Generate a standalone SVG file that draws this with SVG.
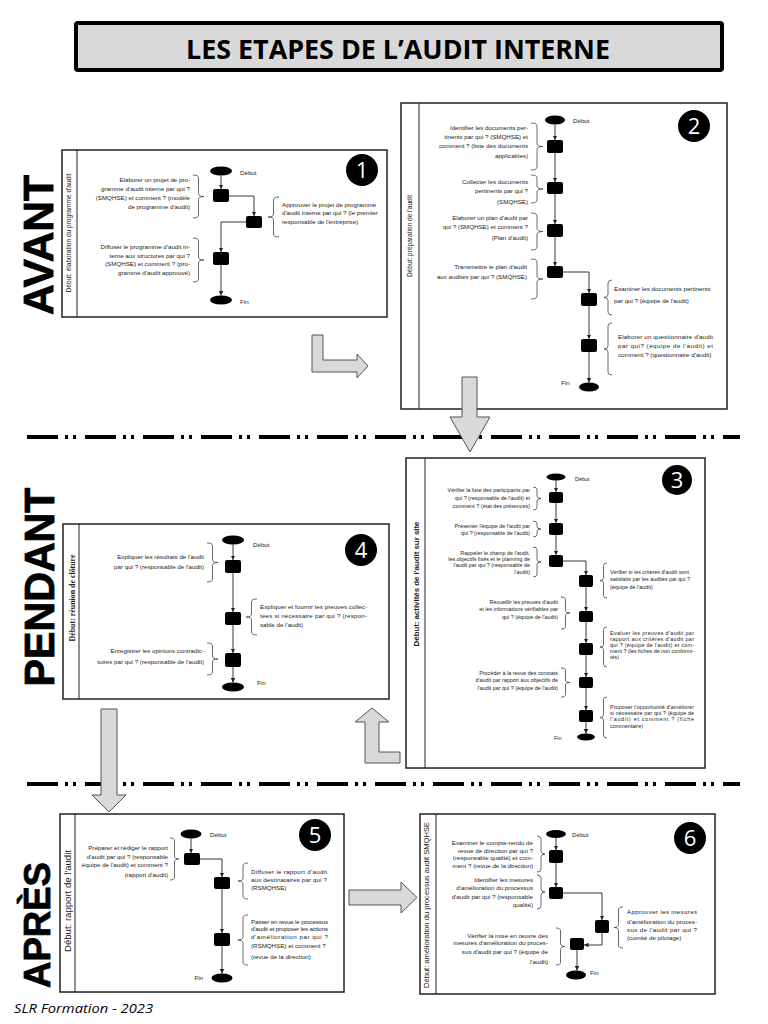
<svg xmlns="http://www.w3.org/2000/svg" width="768" height="1024" viewBox="0 0 768 1024">
<defs>
<marker id="ah" viewBox="0 0 6 6" refX="6" refY="3" markerWidth="4.5" markerHeight="4.5" markerUnits="userSpaceOnUse" orient="auto"><path d="M0,0 L6,3 L0,6 Z" fill="#222"/></marker>
<style>
.t{font-family:"Liberation Sans",Arial,sans-serif;font-size:6.2px;fill:#222}
.s{font-size:5.4px}
.r{text-anchor:end}
.br{fill:none;stroke:#444;stroke-width:0.8}
.ln{fill:none;stroke:#222;stroke-width:0.9}
.bx{fill:#000}
.pn{fill:#fff;stroke:#222;stroke-width:1.5}
.dv{stroke:#222;stroke-width:1}
.nt{font-family:"Open Sans","Liberation Sans",sans-serif;font-size:22px;fill:#fff;text-anchor:middle}
.ga{fill:#d9d9d9;stroke:#555;stroke-width:1}
.big{font-family:"Liberation Sans",Arial,sans-serif;font-weight:700;fill:#000;stroke:#000;stroke-width:0.8;text-anchor:middle}
.dash{stroke:#000;stroke-width:4;stroke-dasharray:31 7 3 5 3 9;fill:none}
.lab{font-family:"Liberation Sans",Arial,sans-serif;fill:#222;text-anchor:middle}
</style>
</defs>
<rect width="768" height="1024" fill="#fff"/>

<g id="title">
<rect x="76" y="23" width="646" height="47" fill="#d9d9d9" stroke="#000" stroke-width="4" rx="2"/>
<text x="398" y="59" font-family="'Open Sans','Liberation Sans',sans-serif" font-weight="700" font-size="27" text-anchor="middle" textLength="424" lengthAdjust="spacingAndGlyphs" fill="#000">LES ETAPES DE L’AUDIT INTERNE</text>
</g>

<g id="phases">
<text class="big" font-size="42" transform="translate(53,245) rotate(-90)" textLength="140" lengthAdjust="spacingAndGlyphs">AVANT</text>
<text class="big" font-size="43" transform="translate(54,587) rotate(-90)" textLength="199" lengthAdjust="spacingAndGlyphs">PENDANT</text>
<text class="big" font-size="37" transform="translate(50,925) rotate(-90)" textLength="126" lengthAdjust="spacingAndGlyphs">APRÈS</text>
</g>

<g id="separators">
<line class="dash" x1="27" y1="437" x2="740" y2="437"/>
<line class="dash" x1="27" y1="784" x2="740" y2="784"/>
</g>

<!-- Panel 1 -->
<g id="panel1">
<rect class="pn" x="62" y="150" width="325" height="167"/>
<line class="dv" x1="77" y1="150" x2="77" y2="317"/>
<text class="lab" font-size="6.5" transform="translate(71,233) rotate(-90)" textLength="119" lengthAdjust="spacingAndGlyphs">Début: élaboration du programme d'audit</text>
<circle cx="362" cy="170" r="16" fill="#000"/><text class="nt" x="362" y="178">1</text>
<g id="p1-debut"><ellipse cx="221" cy="171" rx="11" ry="4.5" fill="#000"/><text class="t" x="240" y="175" font-size="7">Début</text></g>
<g id="p1-s1"><rect class="bx" x="213" y="189" width="16" height="13" rx="2"/>
<path class="br" d="M193,175 Q198.5,175 198.5,178 L198.5,193.5 Q198.5,196.5 204,196.5 Q198.5,196.5 198.5,199.5 L198.5,215 Q198.5,218 193,218"/>
<text class="t r" x="190" y="182">Elaborer un projet de pro-</text>
<text class="t r" x="190" y="191">gramme d'audit interne par qui ?</text>
<text class="t r" x="190" y="200">(SMQHSE) et comment ? (modèle</text>
<text class="t r" x="190" y="209">de programme d'audit)</text></g>
<g id="p1-s2"><rect class="bx" x="246" y="216" width="16" height="12" rx="2"/>
<path class="br" d="M279,197 Q273.5,197 273.5,200 L273.5,214 Q273.5,217 268,217 Q273.5,217 273.5,220 L273.5,234 Q273.5,237 279,237"/>
<text class="t" x="282" y="207">Approuver le projet de programme</text>
<text class="t" x="282" y="215">d'audit interne par qui ? (le premier</text>
<text class="t" x="282" y="224">responsable de l'entreprise)</text></g>
<g id="p1-s3"><rect class="bx" x="213" y="252" width="16" height="13" rx="2"/>
<path class="br" d="M193,238 Q198.5,238 198.5,241 L198.5,257 Q198.5,260 204,260 Q198.5,260 198.5,263 L198.5,279 Q198.5,282 193,282"/>
<text class="t r" x="190" y="249">Diffuser le programme d'audit in-</text>
<text class="t r" x="190" y="258">terne aux structures par qui ?</text>
<text class="t r" x="190" y="266">(SMQHSE) et comment ? (pro-</text>
<text class="t r" x="190" y="275">gramme d'audit approuvé)</text></g>
<g id="p1-fin"><ellipse cx="221" cy="300" rx="11" ry="4.5" fill="#000"/><text class="t" x="240" y="304" font-size="7">Fin</text></g>
</g>

<!-- Panel 2 -->
<g id="panel2">
<rect class="pn" x="401" y="103" width="326" height="306"/>
<line class="dv" x1="419" y1="103" x2="419" y2="409"/>
<text class="lab" font-size="6.5" transform="translate(411.5,236) rotate(-90)" textLength="82" lengthAdjust="spacingAndGlyphs">Début: préparation de l'audit</text>
<circle cx="694" cy="126" r="16" fill="#000"/><text class="nt" x="694" y="134">2</text>
<g id="p2-debut"><ellipse cx="555" cy="120" rx="10" ry="4.5" fill="#000"/><text class="t" x="573" y="123" font-size="7">Début</text></g>
<g id="p2-s1"><rect class="bx" x="547" y="140" width="16" height="13" rx="2"/>
<path class="br" d="M531,123 Q537,123 537,126 L537,143.5 Q537,146.5 543,146.5 Q537,146.5 537,149.5 L537,167 Q537,170 531,170"/>
<text class="t r" x="528" y="130">Identifier les documents per-</text>
<text class="t r" x="528" y="139">tinents par qui ? (SMQHSE) et</text>
<text class="t r" x="528" y="148">comment ? (liste des documents</text>
<text class="t r" x="528" y="158">applicables)</text></g>
<g id="p2-s2"><rect class="bx" x="547" y="182" width="16" height="12" rx="2"/>
<path class="br" d="M531,175 Q537,175 537,178 L537,186 Q537,189 543,189 Q537,189 537,192 L537,200 Q537,203 531,203"/>
<text class="t r" x="528" y="184">Collecter les documents</text>
<text class="t r" x="528" y="193">pertinents par qui ?</text>
<text class="t r" x="528" y="204">(SMQHSE)</text></g>
<g id="p2-s3"><rect class="bx" x="547" y="224" width="16" height="13" rx="2"/>
<path class="br" d="M531,213 Q537,213 537,216 L537,228.5 Q537,231.5 543,231.5 Q537,231.5 537,234.5 L537,247 Q537,250 531,250"/>
<text class="t r" x="528" y="220">Elaborer un plan d'audit par</text>
<text class="t r" x="528" y="229">qui ? (SMQHSE) et comment ?</text>
<text class="t r" x="528" y="240">(Plan d'audit)</text></g>
<g id="p2-s4"><rect class="bx" x="547" y="266" width="16" height="12" rx="2"/>
<path class="br" d="M531,259 Q537,259 537,262 L537,276 Q537,279 543,279 Q537,279 537,282 L537,296 Q537,299 531,299"/>
<text class="t r" x="527" y="269">Transmettre le plan d'audit</text>
<text class="t r" x="527" y="279">aux audités par qui ? (SMQHSE)</text></g>
<g id="p2-s5"><rect class="bx" x="581" y="293" width="16" height="13" rx="2"/>
<path class="br" d="M612,280 Q608,280 608,283 L608,294.5 Q608,297.5 604,297.5 Q608,297.5 608,300.5 L608,312 Q608,315 612,315"/>
<text class="t" x="614" y="291">Examiner les documents pertinents</text>
<text class="t" x="614" y="303">par qui ? (équipe de l'audit)</text></g>
<g id="p2-s6"><rect class="bx" x="581" y="339" width="16" height="13" rx="2"/>
<path class="br" d="M612,323 Q608,323 608,326 L608,346 Q608,349 604,349 Q608,349 608,352 L608,372 Q608,375 612,375"/>
<text class="t" x="618" y="339" textLength="95" lengthAdjust="spacing">Elaborer un questionnaire d'audit</text>
<text class="t" x="618" y="348" textLength="95" lengthAdjust="spacing">par qui? (équipe de l'audit) et</text>
<text class="t" x="618" y="357">comment ? (questionnaire d'audit)</text></g>
<g id="p2-fin"><ellipse cx="589" cy="387" rx="10" ry="4.5" fill="#000"/><text class="t" x="561" y="385" font-size="7">Fin</text></g>
</g>

<!-- Panel 3 -->
<g id="panel3">
<rect class="pn" x="406" y="458" width="299" height="310"/>
<line class="dv" x1="425" y1="458" x2="425" y2="768"/>
<text class="lab" font-size="8" font-weight="700" fill="#3b3526" transform="translate(418.5,584) rotate(-90)" textLength="125" lengthAdjust="spacing">Début: activités de l'audit sur site</text>
<circle cx="677" cy="480" r="15" fill="#000"/><text class="nt" x="677" y="488" font-size="21">3</text>
<g id="p3-debut"><ellipse cx="556" cy="477" rx="9.5" ry="3.5" fill="#000"/><text class="t s" x="575" y="481">Début</text></g>
<g id="p3-s1"><rect class="bx" x="549" y="492" width="14" height="11" rx="2"/>
<path class="br" d="M533,487 Q537,487 537,489.5 L537,496 Q537,498.5 541,498.5 Q537,498.5 537,501 L537,507.5 Q537,510 533,510"/>
<text class="t s r" x="530" y="492">Vérifier la liste des participants par</text>
<text class="t s r" x="530" y="500">qui ? (responsable de l'audit) et</text>
<text class="t s r" x="530" y="508">comment ? (état des présences)</text></g>
<g id="p3-s2"><rect class="bx" x="549" y="523" width="14" height="12" rx="2"/>
<path class="br" d="M533,521 Q537,521 537,523.5 L537,526.5 Q537,529 541,529 Q537,529 537,531.5 L537,534.5 Q537,537 533,537"/>
<text class="t s r" x="530" y="528">Présenter l'équipe de l'audit par</text>
<text class="t s r" x="530" y="535">qui ? (responsable de l'audit)</text></g>
<g id="p3-s3"><rect class="bx" x="549" y="555" width="14" height="12" rx="2"/>
<path class="br" d="M533,547 Q537,547 537,549.5 L537,559.5 Q537,562 541,562 Q537,562 537,564.5 L537,574.5 Q537,577 533,577"/>
<text class="t s r" x="530" y="555">Rappeler le champ de l'audit,</text>
<text class="t s r" x="530" y="561">les objectifs fixés et le planning de</text>
<text class="t s r" x="530" y="567">l'audit par qui ? (responsable de</text>
<text class="t s r" x="530" y="574">l'audit)</text></g>
<g id="p3-s4"><rect class="bx" x="579" y="575" width="14" height="12" rx="2"/>
<path class="br" d="M607,563 Q603.5,563 603.5,565.5 L603.5,578 Q603.5,580.5 600,580.5 Q603.5,580.5 603.5,583 L603.5,595.5 Q603.5,598 607,598"/>
<text class="t s" x="610" y="574">Vérifier si les critères d'audit sont</text>
<text class="t s" x="610" y="581">satisfaits par les audités par qui ?</text>
<text class="t s" x="610" y="589">(équipe de l'audit)</text></g>
<g id="p3-s5"><rect class="bx" x="579" y="611" width="14" height="11" rx="2"/>
<path class="br" d="M561,597 Q565.5,597 565.5,599.5 L565.5,610.5 Q565.5,613 570,613 Q565.5,613 565.5,615.5 L565.5,626.5 Q565.5,629 561,629"/>
<text class="t s r" x="558" y="604">Recueillir les preuves d'audit</text>
<text class="t s r" x="558" y="611">et les informations vérifiables par</text>
<text class="t s r" x="558" y="619">qui ? (équipe de l'audit)</text></g>
<g id="p3-s6"><rect class="bx" x="579" y="643" width="14" height="12" rx="2"/>
<path class="br" d="M607,627 Q603.5,627 603.5,629.5 L603.5,644.5 Q603.5,647 600,647 Q603.5,647 603.5,649.5 L603.5,664.5 Q603.5,667 607,667"/>
<text class="t s" x="610" y="634.5" textLength="84" lengthAdjust="spacing">Evaluer les preuves d'audit par</text>
<text class="t s" x="610" y="640.5" textLength="84" lengthAdjust="spacing">rapport aux critères d'audit par</text>
<text class="t s" x="610" y="646.5" textLength="84" lengthAdjust="spacing">qui ? (équipe de l'audit) et com-</text>
<text class="t s" x="610" y="652.5" textLength="84" lengthAdjust="spacing">ment ? (les fiches de non conformi-</text>
<text class="t s" x="610" y="659">tés)</text></g>
<g id="p3-s7"><rect class="bx" x="579" y="677" width="14" height="11" rx="2"/>
<path class="br" d="M561,668 Q565.5,668 565.5,670.5 L565.5,680 Q565.5,682.5 570,682.5 Q565.5,682.5 565.5,685 L565.5,694.5 Q565.5,697 561,697"/>
<text class="t s r" x="558" y="675">Procéder à la revue des constats</text>
<text class="t s r" x="558" y="682">d'audit par rapport aux objectifs de</text>
<text class="t s r" x="558" y="690">l'audit par qui ? (équipe de l'audit)</text></g>
<g id="p3-s8"><rect class="bx" x="579" y="710" width="14" height="12" rx="2"/>
<path class="br" d="M607,697 Q603.5,697 603.5,699.5 L603.5,715 Q603.5,717.5 600,717.5 Q603.5,717.5 603.5,720 L603.5,735.5 Q603.5,738 607,738"/>
<text class="t s" x="610" y="709" textLength="84" lengthAdjust="spacing">Proposer l'opportunité d'améliorer</text>
<text class="t s" x="610" y="715" textLength="84" lengthAdjust="spacing">si nécessaire par qui ? (équipe de</text>
<text class="t s" x="610" y="721" textLength="84" lengthAdjust="spacing">l'audit) et comment ? (fiche</text>
<text class="t s" x="610" y="728">commentaire)</text></g>
<g id="p3-fin"><ellipse cx="586" cy="737" rx="9" ry="3.5" fill="#000"/><text class="t s" x="554" y="740">Fin</text></g>
</g>

<!-- Panel 4 -->
<g id="panel4">
<rect class="pn" x="63" y="524" width="326" height="175"/>
<line class="dv" x1="79" y1="524" x2="79" y2="699"/>
<text font-family="'Liberation Serif','Times New Roman',serif" font-weight="700" font-size="8.5" fill="#222" text-anchor="middle" transform="translate(74.5,598) rotate(-90)" textLength="87" lengthAdjust="spacingAndGlyphs">Début: réunion de clôture</text>
<circle cx="361" cy="550" r="16" fill="#000"/><text class="nt" x="361" y="558">4</text>
<g id="p4-debut"><ellipse cx="233" cy="540" rx="11" ry="4.5" fill="#000"/><text class="t" x="253" y="547" font-size="7">Début</text></g>
<g id="p4-s1"><rect class="bx" x="225" y="560" width="16" height="13" rx="2"/>
<path class="br" d="M207,543 Q212.5,543 212.5,546 L212.5,559.5 Q212.5,562.5 218,562.5 Q212.5,562.5 212.5,565.5 L212.5,579 Q212.5,582 207,582"/>
<text class="t r" x="204" y="559">Expliquer les résultats de l'audit</text>
<text class="t r" x="204" y="569">par qui ? (responsable de l'audit)</text></g>
<g id="p4-s2"><rect class="bx" x="225" y="612" width="16" height="13" rx="2"/>
<path class="br" d="M257,599 Q251.5,599 251.5,602 L251.5,614 Q251.5,617 246,617 Q251.5,617 251.5,620 L251.5,632 Q251.5,635 257,635"/>
<text class="t" x="260" y="609" textLength="107" lengthAdjust="spacing">Expliquer et fournir les preuves collec-</text>
<text class="t" x="260" y="618" textLength="107" lengthAdjust="spacing">tées si nécessaire par qui ? (respon-</text>
<text class="t" x="260" y="627">sable de l'audit)</text></g>
<g id="p4-s3"><rect class="bx" x="225" y="653" width="16" height="14" rx="2"/>
<path class="br" d="M207,643 Q212.5,643 212.5,646 L212.5,656 Q212.5,659 218,659 Q212.5,659 212.5,662 L212.5,672 Q212.5,675 207,675"/>
<text class="t r" x="204" y="653">Enregistrer les opinions contradic-</text>
<text class="t r" x="204" y="664">toires par qui ? (responsable de l'audit)</text></g>
<g id="p4-fin"><ellipse cx="233" cy="687" rx="11" ry="4.5" fill="#000"/><text class="t" x="257" y="685" font-size="7">Fin</text></g>
</g>

<!-- Panel 5 -->
<g id="panel5">
<rect class="pn" x="60" y="814" width="284" height="178"/>
<line class="dv" x1="75" y1="814" x2="75" y2="992"/>
<text class="lab" font-size="9.5" transform="translate(70.5,901) rotate(-90)" textLength="102" lengthAdjust="spacingAndGlyphs">Début: rapport de l'audit</text>
<circle cx="315" cy="835" r="16" fill="#000"/><text class="nt" x="315" y="843">5</text>
<g id="p5-debut"><ellipse cx="191" cy="834" rx="10.5" ry="4.5" fill="#000"/><text class="t" x="210" y="837" font-size="7">Début</text></g>
<g id="p5-s1"><rect class="bx" x="184" y="853" width="16" height="12" rx="2"/>
<path class="br" d="M170,838 Q174.5,838 174.5,841 L174.5,856 Q174.5,859 179,859 Q174.5,859 174.5,862 L174.5,877 Q174.5,880 170,880"/>
<text class="t r" x="168" y="850">Préparer et rédiger le rapport</text>
<text class="t r" x="168" y="859">d'audit par qui ? (responsable</text>
<text class="t r" x="168" y="867">équipe de l'audit) et comment ?</text>
<text class="t r" x="168" y="877">(rapport d'audit)</text></g>
<g id="p5-s2"><rect class="bx" x="214" y="877" width="16" height="12" rx="2"/>
<path class="br" d="M248,863 Q243,863 243,866 L243,878 Q243,881 238,881 Q243,881 243,884 L243,896 Q243,899 248,899"/>
<text class="t" x="251" y="874" textLength="76" lengthAdjust="spacing">Diffuser le rapport d'audit</text>
<text class="t" x="251" y="882" textLength="76" lengthAdjust="spacing">aux destinataires par qui ?</text>
<text class="t" x="251" y="890">(RSMQHSE)</text></g>
<g id="p5-s3"><rect class="bx" x="214" y="933" width="16" height="13" rx="2"/>
<path class="br" d="M248,915 Q243,915 243,918 L243,937 Q243,940 238,940 Q243,940 243,943 L243,962 Q243,965 248,965"/>
<text class="t" x="251" y="924" textLength="77" lengthAdjust="spacing">Passer en revue le processus</text>
<text class="t" x="251" y="931" textLength="77" lengthAdjust="spacing">d'audit et proposer les actions</text>
<text class="t" x="251" y="939" textLength="77" lengthAdjust="spacing">d'amélioration par qui ?</text>
<text class="t" x="251" y="948">(RSMQHSE) et comment ?</text>
<text class="t" x="251" y="959">(revue de la direction)</text></g>
<g id="p5-fin"><ellipse cx="222" cy="978" rx="10.5" ry="4.5" fill="#000"/><text class="t r" x="203" y="980" font-size="7">Fin</text></g>
</g>

<!-- Panel 6 -->
<g id="panel6">
<rect class="pn" x="420" y="814" width="295" height="180"/>
<line class="dv" x1="436" y1="814" x2="436" y2="994"/>
<text class="lab" font-size="7.5" transform="translate(429,905) rotate(-90)" textLength="166" lengthAdjust="spacingAndGlyphs">Début: amélioration du processus audit SMQHSE</text>
<circle cx="690" cy="838" r="16" fill="#000"/><text class="nt" x="690" y="846">6</text>
<g id="p6-debut"><ellipse cx="556" cy="834" rx="10" ry="4" fill="#000"/><text class="t" x="572" y="837" font-size="7">Début</text></g>
<g id="p6-s1"><rect class="bx" x="549" y="850" width="14" height="13" rx="2"/>
<path class="br" d="M537,836 Q541,836 541,839 L541,851 Q541,854 545,854 Q541,854 541,857 L541,869 Q541,872 537,872"/>
<text class="t r" x="533" y="845">Examiner le compte-rendu de</text>
<text class="t r" x="533" y="853">revue de direction par qui ?</text>
<text class="t r" x="533" y="860">(responsable qualité) et com-</text>
<text class="t r" x="533" y="868">ment ? (revue de la direction)</text></g>
<g id="p6-s2"><rect class="bx" x="549" y="887" width="14" height="12" rx="2"/>
<path class="br" d="M537,875 Q541,875 541,878 L541,889 Q541,892 545,892 Q541,892 541,895 L541,906 Q541,909 537,909"/>
<text class="t r" x="533" y="882">Identifier les mesures</text>
<text class="t r" x="533" y="890">d'amélioration du processus</text>
<text class="t r" x="533" y="899">d'audit par qui ? (responsable</text>
<text class="t r" x="533" y="907">qualité)</text></g>
<g id="p6-s3"><rect class="bx" x="595" y="920" width="14" height="13" rx="2"/>
<path class="br" d="M623,907 Q618.5,907 618.5,910 L618.5,924.5 Q618.5,927.5 614,927.5 Q618.5,927.5 618.5,930.5 L618.5,945 Q618.5,948 623,948"/>
<text class="t" x="627" y="914" textLength="70" lengthAdjust="spacing">Approuver les mesures</text>
<text class="t" x="627" y="924" textLength="70" lengthAdjust="spacing">d'amélioration du proces-</text>
<text class="t" x="627" y="932" textLength="70" lengthAdjust="spacing">sus de l'audit par qui ?</text>
<text class="t" x="627" y="940">(comité de pilotage)</text></g>
<g id="p6-s4"><rect class="bx" x="570" y="938" width="14" height="12" rx="2"/>
<path class="br" d="M556,928 Q560.5,928 560.5,931 L560.5,943.5 Q560.5,946.5 565,946.5 Q560.5,946.5 560.5,949.5 L560.5,962 Q560.5,965 556,965"/>
<text class="t r" x="548" y="938">Vérifier la mise en œuvre des</text>
<text class="t r" x="548" y="945">mesures d'amélioration du proces-</text>
<text class="t r" x="548" y="954">sus d'audit par qui ? (équipe de</text>
<text class="t r" x="548" y="964">l'audit)</text></g>
<g id="p6-fin"><ellipse cx="576" cy="975" rx="10" ry="4.5" fill="#000"/><text class="t" x="590" y="975" font-size="7">Fin</text></g>
</g>

<g id="connectors">
<path class="ln" marker-end="url(#ah)" d="M221,175.5 L221,189"/>
<path class="ln" marker-end="url(#ah)" d="M229,196 L254,196 L254,216"/>
<path class="ln" marker-end="url(#ah)" d="M246,222 L221,222 L221,252"/>
<path class="ln" marker-end="url(#ah)" d="M221,265 L221,295.5"/>
<path class="ln" marker-end="url(#ah)" d="M555,124.5 L555,140"/>
<path class="ln" marker-end="url(#ah)" d="M555,153 L555,182"/>
<path class="ln" marker-end="url(#ah)" d="M555,194 L555,224"/>
<path class="ln" marker-end="url(#ah)" d="M555,237 L555,266"/>
<path class="ln" marker-end="url(#ah)" d="M563,272 L589,272 L589,293"/>
<path class="ln" marker-end="url(#ah)" d="M589,306 L589,339"/>
<path class="ln" marker-end="url(#ah)" d="M589,352 L589,382.5"/>
<path class="ln" marker-end="url(#ah)" d="M556,480.5 L556,492"/>
<path class="ln" marker-end="url(#ah)" d="M556,503 L556,523"/>
<path class="ln" marker-end="url(#ah)" d="M556,535 L556,555"/>
<path class="ln" marker-end="url(#ah)" d="M563,561 L586,561 L586,575"/>
<path class="ln" marker-end="url(#ah)" d="M586,587 L586,611"/>
<path class="ln" marker-end="url(#ah)" d="M586,622 L586,643"/>
<path class="ln" marker-end="url(#ah)" d="M586,655 L586,677"/>
<path class="ln" marker-end="url(#ah)" d="M586,688 L586,710"/>
<path class="ln" marker-end="url(#ah)" d="M586,722 L586,733.5"/>
<path class="ln" marker-end="url(#ah)" d="M233,544.5 L233,560"/>
<path class="ln" marker-end="url(#ah)" d="M233,573 L233,612"/>
<path class="ln" marker-end="url(#ah)" d="M233,625 L233,653"/>
<path class="ln" marker-end="url(#ah)" d="M233,667 L233,682.5"/>
<path class="ln" marker-end="url(#ah)" d="M191,838.5 L191,853"/>
<path class="ln" marker-end="url(#ah)" d="M200,859 L222,859 L222,877"/>
<path class="ln" marker-end="url(#ah)" d="M222,889 L222,933"/>
<path class="ln" marker-end="url(#ah)" d="M222,946 L222,973.5"/>
<path class="ln" marker-end="url(#ah)" d="M556,838 L556,850"/>
<path class="ln" marker-end="url(#ah)" d="M556,863 L556,887"/>
<path class="ln" marker-end="url(#ah)" d="M563,893 L602,893 L602,920"/>
<path class="ln" marker-end="url(#ah)" d="M602,933 L602,945 L584,945"/>
<path class="ln" marker-end="url(#ah)" d="M577,950 L577,970.5"/>
<path class="ga" d="M312,335 L323,335 L323,360 L357,360 L357,354 L368,366 L357,378 L357,372 L312,372 Z"/>
<path class="ga" d="M462,377 L477,377 L477,417 L490,417 L470,452 L450,417 L462,417 Z"/>
<path class="ga" d="M365,763 L365,722 L355,722 L372,708 L389,722 L379,722 L379,752 L400,752 L400,763 Z"/>
<path class="ga" d="M101,709 L117,709 L117,795 L126,795 L109,812 L92,795 L101,795 Z"/>
<path class="ga" d="M349,890 L401,890 L401,882 L417,897.5 L401,913 L401,905 L349,905 Z"/>
</g>

<text x="14" y="1013" font-family="'Open Sans','Liberation Sans',sans-serif" font-style="italic" font-size="13" fill="#000" textLength="139" lengthAdjust="spacingAndGlyphs">SLR Formation - 2023</text>
</svg>
